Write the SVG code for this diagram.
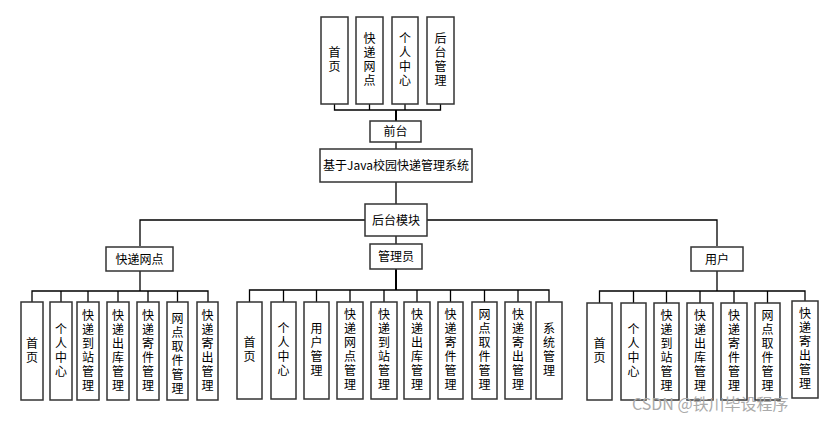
<svg xmlns="http://www.w3.org/2000/svg" width="838" height="422" viewBox="0 0 838 422">
<style>
rect{fill:#fff;stroke:#333;stroke-width:1.5}
text{font-family:"Noto Sans CJK SC","Liberation Sans",sans-serif;font-size:12px;fill:#000;text-anchor:middle}
text.v{writing-mode:vertical-rl;letter-spacing:2px}
.c line,.c path{stroke:#000;stroke-width:1.3;fill:none}
.wm{font-size:16px;fill:#aaa;text-anchor:start}
</style>
<rect x="0" y="0" width="838" height="422" style="stroke:none"/>
<g class="c">
<path d="M334.5 104V110H440.5V104M369.5 104V110M405 104V110"/>
<line x1="396" y1="110" x2="396" y2="121" style="stroke-width:2"/>
<line x1="396" y1="142" x2="396" y2="149"/>
<line x1="396" y1="182" x2="396" y2="204"/>
<line x1="396" y1="236" x2="396" y2="244"/>
<path d="M140 246V220H365M427 220H717V246"/>
<path d="M140 271V291"/>
<path d="M32 302V291H208V302M61 291V302M88 291V302M118 291V302M148 291V302M177.5 291V302"/>
<line x1="396" y1="269" x2="396" y2="290" style="stroke-width:2"/>
<path d="M249.5 302V290H549V302M283.5 290V302M316.5 290V302M350 290V302M384 290V302M417 290V302M450.5 290V302M484.5 290V302M518 290V302"/>
<path d="M717 271V291"/>
<path d="M599.5 303V291H805V301M633.5 291V303M666.5 291V303M700 291V303M734 291V303M767.5 291V303"/>
</g>
<g id="top1"><rect x="321" y="17" width="27" height="87"/><text class="v" x="334.5" y="60.5">首页</text></g>
<g id="top2"><rect x="356" y="17" width="27" height="87"/><text class="v" x="369.5" y="60.5">快递网点</text></g>
<g id="top3"><rect x="392" y="17" width="26" height="87"/><text class="v" x="405" y="60.5">个人中心</text></g>
<g id="top4"><rect x="427" y="17" width="27" height="87"/><text class="v" x="440.5" y="60.5">后台管理</text></g>
<g id="qiantai"><rect x="370" y="121" width="51" height="21"/><text x="395.5" y="136">前台</text></g>
<g id="system"><rect x="320" y="149" width="152" height="33"/><text x="396" y="170">基于Java校园快递管理系统</text></g>
<g id="houtai"><rect x="365" y="204" width="62" height="32"/><text x="396" y="224.5">后台模块</text></g>
<g id="wangdian"><rect x="106" y="247" width="67" height="24"/><text x="139.5" y="263.5">快递网点</text></g>
<g id="admin"><rect x="370" y="244" width="52" height="25"/><text x="396" y="261">管理员</text></g>
<g id="user"><rect x="691" y="247" width="52" height="24"/><text x="717" y="263.5">用户</text></g>

<g id="l1"><rect x="21" y="302" width="22" height="98"/><text class="v" x="32" y="351">首页</text></g>
<g id="l2"><rect x="50" y="302" width="22" height="98"/><text class="v" x="61" y="351">个人中心</text></g>
<g id="l3"><rect x="77" y="302" width="22" height="98"/><text class="v" x="88" y="351">快递到站管理</text></g>
<g id="l4"><rect x="107" y="302" width="22" height="98"/><text class="v" x="118" y="351">快递出库管理</text></g>
<g id="l5"><rect x="137" y="302" width="22" height="98"/><text class="v" x="148" y="351">快递寄件管理</text></g>
<g id="l6"><rect x="167" y="302" width="21" height="98"/><text class="v" x="177.5" y="354">网点取件管理</text></g>
<g id="l7"><rect x="197" y="302" width="21" height="98"/><text class="v" x="207.5" y="351">快递寄出管理</text></g>

<g id="m1"><rect x="237" y="302" width="25" height="97"/><text class="v" x="249.5" y="350.5">首页</text></g>
<g id="m2"><rect x="271" y="302" width="25" height="97"/><text class="v" x="283.5" y="350.5">个人中心</text></g>
<g id="m3"><rect x="304" y="302" width="25" height="97"/><text class="v" x="316.5" y="350.5">用户管理</text></g>
<g id="m4"><rect x="337" y="302" width="26" height="97"/><text class="v" x="350" y="350.5">快递网点管理</text></g>
<g id="m5"><rect x="371" y="302" width="26" height="97"/><text class="v" x="384" y="350.5">快递到站管理</text></g>
<g id="m6"><rect x="404" y="302" width="26" height="97"/><text class="v" x="417" y="350.5">快递出库管理</text></g>
<g id="m7"><rect x="438" y="302" width="25" height="97"/><text class="v" x="450.5" y="350.5">快递寄件管理</text></g>
<g id="m8"><rect x="472" y="302" width="25" height="97"/><text class="v" x="484.5" y="350.5">网点取件管理</text></g>
<g id="m9"><rect x="505" y="302" width="26" height="97"/><text class="v" x="518" y="350.5">快递寄出管理</text></g>
<g id="m10"><rect x="536" y="302" width="26" height="97"/><text class="v" x="549" y="350.5">系统管理</text></g>

<g id="r1"><rect x="587" y="303" width="25" height="97"/><text class="v" x="599.5" y="351.5">首页</text></g>
<g id="r2"><rect x="621" y="303" width="25" height="97"/><text class="v" x="633.5" y="351.5">个人中心</text></g>
<g id="r3"><rect x="654" y="303" width="25" height="97"/><text class="v" x="666.5" y="351.5">快递到站管理</text></g>
<g id="r4"><rect x="687" y="303" width="26" height="97"/><text class="v" x="700" y="351.5">快递出库管理</text></g>
<g id="r5"><rect x="721" y="303" width="26" height="97"/><text class="v" x="734" y="351.5">快递寄件管理</text></g>
<g id="r6"><rect x="755" y="303" width="25" height="97"/><text class="v" x="767.5" y="351.5">网点取件管理</text></g>
<g id="r7"><rect x="792" y="301" width="26" height="97"/><text class="v" x="805" y="349.5">快递寄出管理</text></g>

<text class="wm" x="632" y="410">CSDN @铁川毕设程序</text>
</svg>
